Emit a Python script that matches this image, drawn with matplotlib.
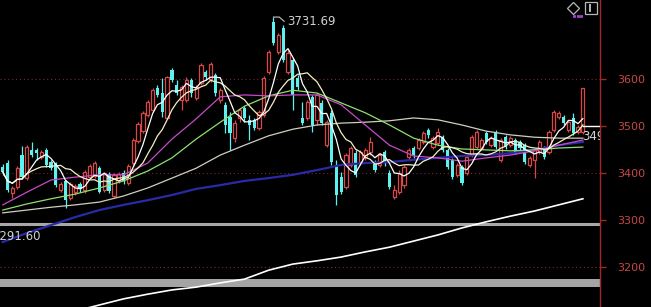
import numpy as np
import pandas as pd
import matplotlib
matplotlib.use('Agg')
import matplotlib.pyplot as plt

# daily candles, values
opens = [3413, 3421, 3357, 3370, 3438, 3389, 3449, 3449, 3434, 3449,
         3423, 3421, 3364, 3383, 3347, 3359, 3376, 3364, 3391, 3393,
         3410, 3364, 3398, 3351, 3385, 3400, 3379, 3421, 3468, 3489,
         3523, 3534, 3581, 3570, 3517, 3619, 3587, 3555, 3555, 3598,
         3560, 3591, 3615, 3600, 3608, 3555, 3545, 3519, 3474, 3517,
         3538, 3513, 3513, 3496, 3523, 3615, 3721, 3657, 3708, 3615,
         3640, 3602, 3517, 3517, 3562, 3513, 3549, 3459, 3528, 3417,
         3391, 3370, 3417, 3442, 3423, 3434, 3445, 3421, 3417, 3445,
         3400, 3349, 3359, 3374, 3434, 3453, 3453, 3466, 3491, 3455,
         3464, 3476, 3449, 3428, 3396, 3413, 3400, 3438, 3455, 3453,
         3485, 3459, 3487, 3428, 3476, 3459, 3470, 3466, 3459, 3417,
         3428, 3445, 3453, 3445, 3491, 3519, 3519, 3491, 3517, 3487,
         3487]
highs = [3419, 3428, 3372, 3415, 3457, 3459, 3466, 3453, 3449, 3453,
         3428, 3423, 3381, 3385, 3381, 3376, 3381, 3406, 3419, 3425,
         3415, 3402, 3402, 3400, 3402, 3406, 3419, 3474, 3508, 3532,
         3555, 3581, 3587, 3602, 3606, 3623, 3598, 3587, 3604, 3602,
         3587, 3634, 3619, 3636, 3613, 3581, 3551, 3530, 3513, 3538,
         3542, 3523, 3517, 3534, 3606, 3662, 3731.69, 3698, 3715, 3662,
         3645, 3608, 3551, 3555, 3566, 3570, 3555, 3513, 3534, 3428,
         3402, 3442, 3457, 3449, 3449, 3453, 3476, 3428, 3442, 3449,
         3406, 3374, 3406, 3417, 3453, 3457, 3474, 3489, 3496, 3479,
         3496, 3481, 3453, 3432, 3421, 3417, 3438, 3481, 3491, 3474,
         3489, 3479, 3491, 3474, 3481, 3479, 3474, 3470, 3464, 3436,
         3453, 3470, 3457, 3491, 3534, 3532, 3523, 3513, 3528, 3502,
         3581]
lows = [3396, 3359, 3347, 3366, 3387, 3385, 3434, 3428, 3430, 3413,
        3406, 3370, 3359, 3325, 3342, 3353, 3359, 3357, 3387, 3389,
        3357, 3359, 3357, 3347, 3379, 3376, 3374, 3417, 3464, 3485,
        3519, 3532, 3562, 3519, 3515, 3594, 3566, 3534, 3551, 3562,
        3555, 3587, 3598, 3594, 3564, 3549, 3485, 3449, 3466, 3508,
        3508, 3470, 3491, 3491, 3519, 3611, 3672, 3653, 3636, 3611,
        3534, 3577, 3502, 3513, 3487, 3502, 3502, 3455, 3417, 3332,
        3355, 3366, 3413, 3391, 3417, 3428, 3438, 3402, 3413, 3415,
        3366, 3345, 3355, 3368, 3428, 3432, 3449, 3462, 3474, 3451,
        3459, 3445, 3408, 3387, 3391, 3374, 3396, 3434, 3451, 3449,
        3462, 3455, 3451, 3423, 3451, 3455, 3440, 3449, 3419, 3413,
        3389, 3440, 3430, 3440, 3487, 3515, 3502, 3487, 3481, 3483,
        3483]
closes = [3402, 3364, 3368, 3411, 3391, 3455, 3438, 3442, 3445, 3417,
          3411, 3374, 3376, 3342, 3376, 3372, 3366, 3402, 3415, 3421,
          3359, 3400, 3361, 3396, 3398, 3383, 3415, 3470, 3504, 3528,
          3551, 3577, 3566, 3530, 3604, 3598, 3570, 3583, 3598, 3570,
          3583, 3630, 3604, 3632, 3570, 3577, 3502, 3485, 3506, 3534,
          3517, 3502, 3496, 3530, 3602, 3657, 3677, 3694, 3640, 3655,
          3566, 3583, 3506, 3551, 3502, 3566, 3506, 3508, 3423, 3353,
          3359, 3438, 3453, 3396, 3445, 3449, 3466, 3406, 3438, 3421,
          3370, 3364, 3400, 3413, 3449, 3438, 3470, 3485, 3481, 3474,
          3487, 3449, 3413, 3391, 3417, 3379, 3434, 3476, 3487, 3470,
          3466, 3474, 3455, 3470, 3455, 3474, 3445, 3453, 3423, 3432,
          3449, 3466, 3434, 3487, 3530, 3528, 3506, 3508, 3485, 3498,
          3581]

# longer moving averages, read every 5th day
ma_days = list(range(0, 121, 5))
ma20 = [3332, 3359, 3385, 3391, 3396, 3396, 3421, 3472, 3515, 3562, 3566, 3564, 3566,
        3566, 3545, 3502, 3459, 3436, 3432, 3425, 3432, 3438, 3447, 3459, 3470]
ma30 = [3321, 3334, 3345, 3355, 3368, 3383, 3404, 3432, 3472, 3508, 3542, 3564, 3576,
        3570, 3549, 3528, 3502, 3474, 3459, 3451, 3449, 3447, 3449, 3453, 3455]
ma60 = [3315, 3321, 3327, 3332, 3338, 3351, 3368, 3389, 3410, 3438, 3459, 3479, 3493,
        3502, 3506, 3508, 3511, 3517, 3513, 3502, 3489, 3481, 3476, 3474, 3474]
ma120 = [3253, 3272, 3289, 3306, 3321, 3332, 3342, 3353, 3366, 3374, 3383, 3389, 3396,
         3406, 3417, 3421, 3423, 3428, 3432, 3436, 3438, 3442, 3449, 3459, 3466]
ma250_days = list(range(15, 121, 5))
ma250 = [3106, 3119, 3132, 3142, 3151, 3157, 3166, 3174, 3193, 3206, 3213, 3221, 3232,
         3242, 3255, 3268, 3283, 3296, 3308, 3319, 3332, 3345]

y_ticks = [3200, 3300, 3400, 3500, 3600]
grid_levels = [3200, 3400, 3600]
low_line = 3291.60
high_mark = 3731.69
last_label = '3494.26'
band = (3157, 3174)

RED = '#d84848'
CYAN = '#5ff0f0'

df = pd.DataFrame({'open': opens, 'high': highs, 'low': lows, 'close': closes})
df['ma5'] = df['close'].rolling(5, min_periods=1).mean()
df['ma10'] = df['close'].rolling(10, min_periods=1).mean()
x = np.arange(len(df))
up = df['close'] >= df['open']

fig = plt.figure(figsize=(6.51, 3.07), dpi=100, facecolor='black')
ax = fig.add_axes([0, 0, 600 / 651, 1])
ax.set_facecolor('black')

# reference lines behind everything
for lv in grid_levels:
    ax.axhline(lv, color='#7a2a2a', lw=0.8, ls=(0, (1, 2.5)), zorder=0)
ax.axhline(low_line, color='#a8a8a8', lw=2.2, zorder=1)
ax.axhspan(band[0], band[1], color='#a4a4a4', lw=0, zorder=1)

# candles
w = 0.66
body_lo = np.minimum(df['open'], df['close'])
body_hi = np.maximum(df['open'], df['close'])
ax.vlines(x[up], df['high'][up], body_hi[up], color=RED, lw=0.9, zorder=2)
ax.vlines(x[up], body_lo[up], df['low'][up], color=RED, lw=0.9, zorder=2)
ax.bar(x[up], (body_hi - body_lo)[up].clip(lower=1), w, bottom=body_lo[up],
       facecolor='black', edgecolor=RED, lw=0.9, zorder=3)
ax.vlines(x[~up], df['low'][~up], df['high'][~up], color=CYAN, lw=0.9, zorder=2)
ax.bar(x[~up], (body_hi - body_lo)[~up].clip(lower=1.5), w, bottom=body_lo[~up],
       color=CYAN, lw=0, zorder=3)

# moving averages
ax.plot(ma250_days, ma250, color='white', lw=1.2, zorder=4)
ax.plot(ma_days, ma120, color='#2a2aa8', lw=1.6, zorder=4)
ax.plot(ma_days, ma60, color='#cfcfc0', lw=0.9, zorder=4)
ax.plot(ma_days, ma30, color='#8fe070', lw=0.9, zorder=4)
ax.plot(ma_days, ma20, color='#c84ac8', lw=0.9, zorder=4)
ax.plot(x, df['ma10'], color='#f4f0c0', lw=0.9, zorder=5)
ax.plot(x, df['ma5'], color='white', lw=0.9, zorder=5)

# labels
hi_i = int(np.argmax(df['high']))
ax.plot([hi_i, hi_i + 1.2, hi_i + 2.2], [high_mark, high_mark, high_mark - 9],
        color='#c8c8c8', lw=0.8, zorder=6)
ax.text(hi_i + 2.8, high_mark - 10, f'{high_mark:.2f}', color='#d0d0d0',
        fontsize=8.5, va='center', ha='left', zorder=6)
# the leading "3" falls off the left edge, as in the screenshot
ax.text(-2.1, low_line - 27, f'{low_line:.2f}', color='#d0d0d0',
        fontsize=8.5, va='center', ha='left', clip_on=True, zorder=6)
last = len(df) - 1
ax.hlines(3500, last - 0.2, last + 4, color='white', lw=1, zorder=6)
ax.text(last - 0.2, 3478, last_label, color='#d8d8d8', fontsize=8.5,
        va='center', ha='left', clip_on=True, zorder=6)

# small toolbar icons top right
ax.plot([0.955], [0.974], marker='D', ms=6, mfc='none', mec='#b8b8b8', mew=0.9,
        transform=ax.transAxes, clip_on=False)
ax.plot([0.985], [0.974], marker='s', ms=8, mfc='none', mec='#b8b8b8', mew=0.9,
        transform=ax.transAxes, clip_on=False)
ax.plot([0.983], [0.974], marker='|', ms=5.5, mec='#b8b8b8', mew=1.4,
        transform=ax.transAxes, clip_on=False)
ax.plot([0.957, 0.963, 0.969], [0.947] * 3, ls='none', marker='s', ms=1.2,
        color='#a040c8', transform=ax.transAxes, clip_on=False)

ax.set_xlim(-0.56, 123.54)
ax.set_ylim(3114.7, 3768)
for s in ['top', 'left', 'bottom']:
    ax.spines[s].set_visible(False)
ax.spines['right'].set_color('#a02828')
ax.spines['right'].set_linewidth(1.0)
ax.xaxis.set_visible(False)
ax.yaxis.tick_right()
ax.set_yticks(y_ticks)
ax.set_yticklabels([str(t) for t in y_ticks])
ax.tick_params(axis='y', colors='#a02828', labelcolor='#c84848', length=4,
               width=1, pad=8.5, labelsize=8)

fig.savefig('out.png', dpi=100, facecolor='black')
